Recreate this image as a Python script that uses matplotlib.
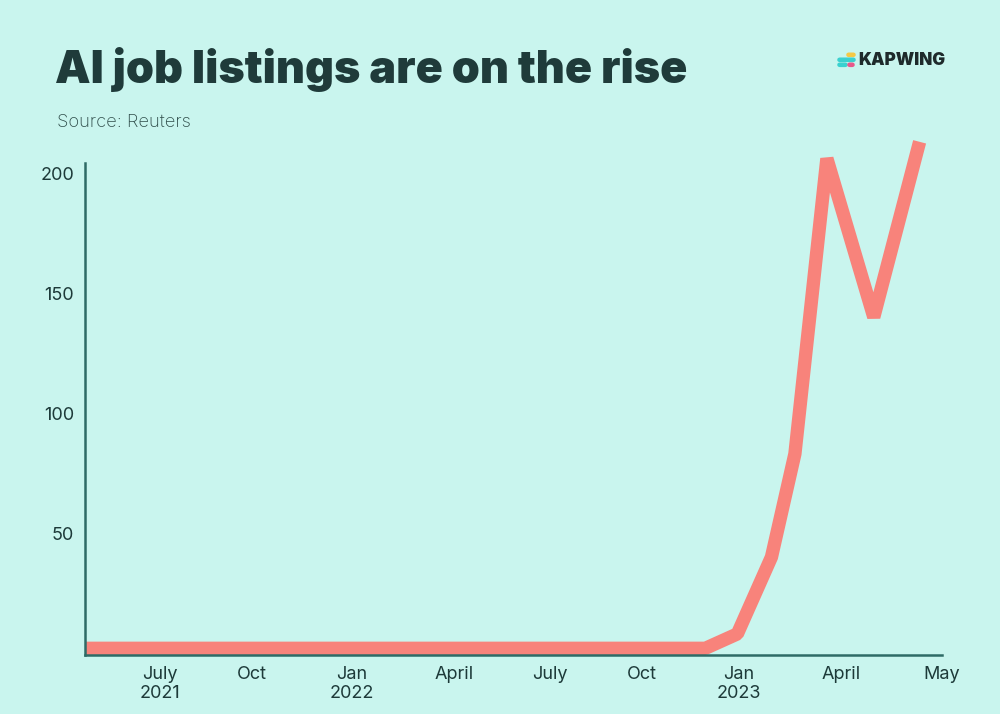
import matplotlib
matplotlib.use("Agg")
import matplotlib.pyplot as plt
import pandas as pd
from matplotlib.patches import FancyBboxPatch

# ---- data ----
dates = ["2021-04-01", "2021-05-25", "2021-06-25", "2021-07-25", "2021-08-25",
         "2021-09-25", "2021-10-25", "2021-11-25", "2021-12-25", "2022-01-25",
         "2022-02-25", "2022-03-25", "2022-04-25", "2022-05-25", "2022-06-25",
         "2022-07-25", "2022-08-25", "2022-09-25", "2022-10-25", "2022-11-25",
         "2022-12-25", "2023-01-26", "2023-02-17", "2023-03-19", "2023-05-02",
         "2023-06-14"]
listings = [2, 2, 2, 2, 2, 2, 2, 2, 2, 2,
            2, 2, 2, 2, 2, 2, 2, 2, 2, 2,
            8, 40, 83, 206, 140, 213]

tick_dates = ["2021-07-01", "2021-09-26", "2021-12-28", "2022-04-03", "2022-07-02",
              "2022-09-26", "2022-12-26", "2023-04-01", "2023-07-05"]
tick_labels = ["July\n2021", "Oct", "Jan\n2022", "April", "July", "Oct",
               "Jan\n2023", "April", "May"]
y_ticks = [50, 100, 150, 200]

title = "AI job listings are on the rise"
subtitle = "Source: Reuters"

# ---- style ----
BG = "#c9f5ee"
LINE = "#f8837b"
AXIS = "#2e6b66"
TEXT = "#1d3a39"
FONT = ["Inter", "DejaVu Sans"]

plt.rcParams["font.family"] = FONT

fig = plt.figure(figsize=(10, 7.14), dpi=100, facecolor=BG)
ax = fig.add_axes([0.085, 0.0826, 0.857, 0.7423])
ax.set_facecolor(BG)

x = pd.to_datetime(dates)
ax.plot(x, listings, color=LINE, lw=9.6, solid_joinstyle="bevel",
        solid_capstyle="butt", clip_on=True)

ax.set_xlim(pd.Timestamp("2021-04-22"), pd.Timestamp("2023-07-03"))
ax.set_ylim(-0.8, 220)

for s in ["top", "right"]:
    ax.spines[s].set_visible(False)
for s in ["left", "bottom"]:
    ax.spines[s].set_color(AXIS)
    ax.spines[s].set_linewidth(1.8)
ax.spines["left"].set_bounds(-0.8, 204)

ax.set_xticks(pd.to_datetime(tick_dates))
ax.set_xticklabels(tick_labels)
ax.set_yticks(y_ticks)
ax.set_yticklabels([str(v) for v in y_ticks])
ax.tick_params(axis="both", length=0, labelsize=13, colors=TEXT)
ax.tick_params(axis="x", pad=8)
ax.tick_params(axis="y", pad=8)
for lab in ax.get_xticklabels():
    lab.set_linespacing(1.15)

fig.text(0.055, 0.902, title, fontsize=32.3, fontweight="black", color="#1f3b3a",
         va="center", ha="left")
fig.text(0.057, 0.829, subtitle, fontsize=13.2, fontweight="light", color="#2f4d4a",
         va="center", ha="left")

# logo
fig.text(0.858, 0.915, "KAPWING", fontsize=12.3, fontweight="black", color="#1e2a2b",
         va="center", ha="left")
bars = [(0.847, 0.921, 0.008, "#f5c945"), (0.838, 0.914, 0.017, "#3ad1cf"),
        (0.838, 0.907, 0.009, "#3ad1cf"), (0.848, 0.907, 0.006, "#e8588b")]
for bx, by, bw, bc in bars:
    fig.patches.append(FancyBboxPatch((bx, by), bw, 0.0045, boxstyle="round,pad=0,rounding_size=0.002",
                                      transform=fig.transFigure, color=bc, figure=fig))

fig.savefig("out.png", dpi=100, facecolor=BG)
